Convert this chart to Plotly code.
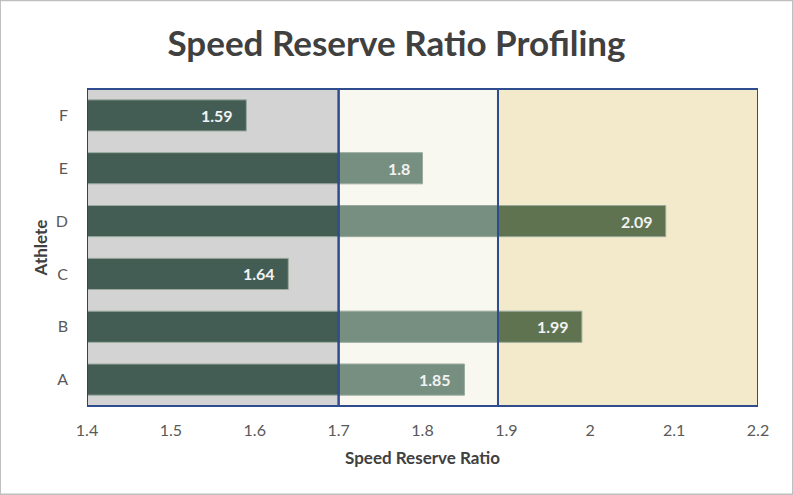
import plotly.graph_objects as go

athletes = ["A", "B", "C", "D", "E", "F"]
ratios = [1.85, 1.99, 1.64, 2.09, 1.80, 1.59]
zone_edges = [1.4, 1.7, 1.89, 2.2]
zone_colors = ["#D3D3D3", "#F9F8F0", "#F3EACB"]
seg_colors = ["#435D55", "#778F81", "#5F7350"]
x_ticks = [1.4, 1.5, 1.6, 1.7, 1.8, 1.9, 2.0, 2.1, 2.2]
x_tick_text = ["1.4", "1.5", "1.6", "1.7", "1.8", "1.9", "2", "2.1", "2.2"]

FONT = "Lato"

fig = go.Figure()

for i in range(3):
    lo, hi = zone_edges[i], zone_edges[i + 1]
    bases, lens = [], []
    for v in ratios:
        top = min(v, hi)
        bases.append(lo)
        lens.append(max(top - lo, 0))
    fig.add_trace(go.Bar(
        y=athletes, x=lens, base=bases, orientation="h",
        marker=dict(color=seg_colors[i], line=dict(color="#9AAA9E", width=1)),
        width=0.59, hoverinfo="skip", showlegend=False,
    ))

annotations = []
for a, v in zip(athletes, ratios):
    annotations.append(dict(x=v, y=a, xref="x", yref="y", text=f"<b>{v:g}</b>",
                            showarrow=False, xanchor="right", yanchor="middle",
                            xshift=-11,
                            font=dict(family=FONT, size=16, color="#F2F2F2")))

shapes = []
for i in range(3):
    shapes.append(dict(type="rect", xref="x", yref="paper",
                       x0=zone_edges[i], x1=zone_edges[i + 1], y0=0, y1=1,
                       fillcolor=zone_colors[i], line=dict(width=0), layer="below"))
for i in range(3):
    shapes.append(dict(type="rect", xref="x", yref="paper",
                       x0=zone_edges[i], x1=zone_edges[i + 1], y0=0, y1=1,
                       fillcolor="rgba(0,0,0,0)", line=dict(color="#2F4D8E", width=2),
                       layer="above"))
shapes.append(dict(type="line", xref="x", yref="paper", x0=1.4, x1=1.4, y0=0, y1=1,
                   line=dict(color="#404040", width=2), layer="above"))
# outer chart border
shapes.append(dict(type="rect", xref="paper", yref="paper", x0=-0.1297, x1=1.0522,
                   y0=-0.279, y1=1.28, line=dict(color="#BFBFBF", width=2),
                   fillcolor="rgba(0,0,0,0)"))

fig.update_layout(
    width=793, height=495,
    margin=dict(l=87, r=35, t=89, b=89),
    paper_bgcolor="white", plot_bgcolor="white",
    barmode="overlay",
    shapes=shapes,
    annotations=annotations,
    title=dict(text="<b>Speed Reserve Ratio Profiling</b>", x=0.5, xanchor="center",
               y=0.912, yanchor="middle",
               font=dict(family=FONT, size=35, color="#404040")),
    xaxis=dict(range=[1.4, 2.2], tickvals=x_ticks, ticktext=x_tick_text,
               showgrid=False, zeroline=False, showline=False,
               ticklabelstandoff=13,
               tickfont=dict(family=FONT, size=16, color="#595959"),
               title=dict(text="<b>Speed Reserve Ratio</b>", standoff=14,
                          font=dict(family=FONT, size=17, color="#404040"))),
    yaxis=dict(showgrid=False, zeroline=False, showline=False,
               categoryorder="array", categoryarray=athletes,
               tickfont=dict(family=FONT, size=16, color="#595959"),
               ticklabelstandoff=18,
               title=dict(text="<b>Athlete</b>", standoff=3,
                          font=dict(family=FONT, size=17, color="#404040"))),
)

fig.write_html("out.html")
